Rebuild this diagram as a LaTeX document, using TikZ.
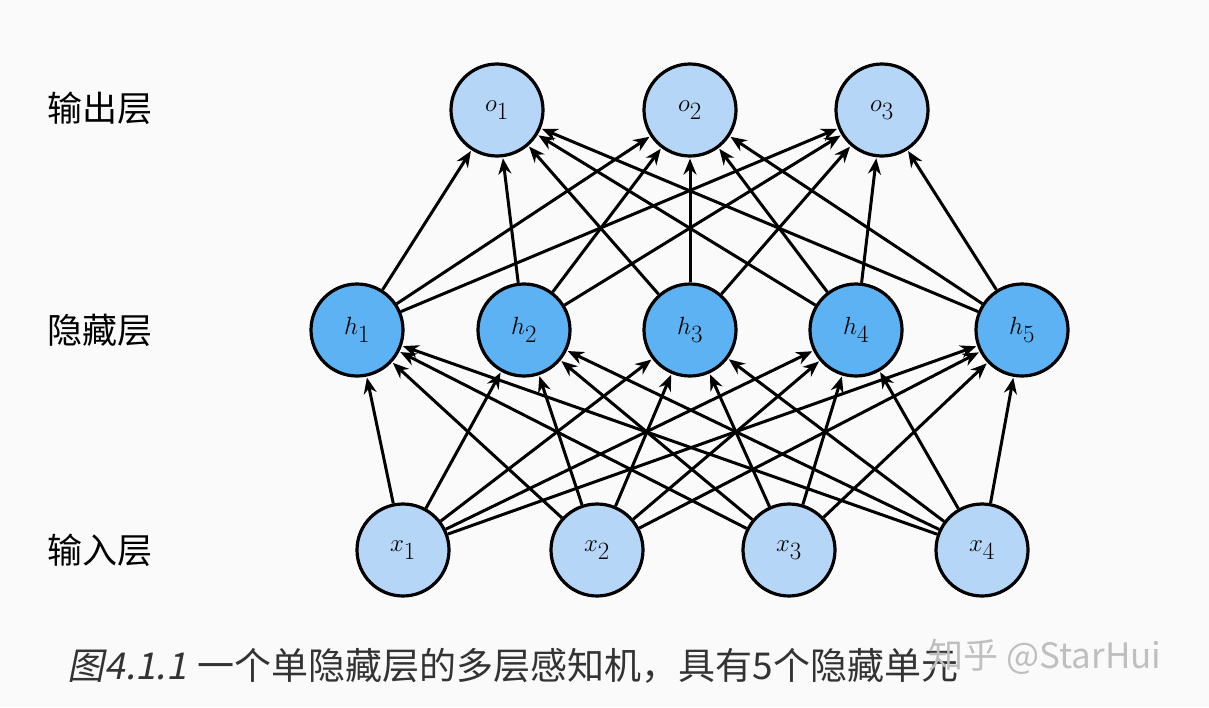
\documentclass[tikz,border=0pt]{standalone}
\usepackage{fontspec}
\newfontfamily\cjk{Noto Sans CJK SC}
\newfontfamily\cjkit{Noto Sans CJK SC}[FakeSlant=0.2]
\usetikzlibrary{arrows.meta}
\definecolor{light}{HTML}{B5D6F7}
\definecolor{hid}{HTML}{5CB2F2}
\definecolor{bg}{HTML}{FAFAFA}
\begin{document}
\begin{tikzpicture}[x=1pt,y=-1pt,
  neuron/.style={circle,draw=black,line width=3.2pt,minimum size=92pt,inner sep=0pt,font=\fontsize{40}{40}\selectfont},
  io/.style={neuron,fill=light},
  hd/.style={neuron,fill=hid},
  conn/.style={-{Stealth[length=16pt,width=13pt]},line width=3pt,shorten >=1pt},
  lab/.style={font=\cjk\fontsize{35}{35}\selectfont,anchor=west}]
\fill[bg] (0,0) rectangle (1209,707);
\useasboundingbox (0,0) rectangle (1209,707);
\node[io] (o1) at (497,110) {$o_1$};
\node[io] (o2) at (690,110) {$o_2$};
\node[io] (o3) at (882,110) {$o_3$};
\node[hd] (h1) at (357,330) {$h_1$};
\node[hd] (h2) at (524,330) {$h_2$};
\node[hd] (h3) at (690,330) {$h_3$};
\node[hd] (h4) at (856,330) {$h_4$};
\node[hd] (h5) at (1022,330) {$h_5$};
\node[io] (x1) at (403,550) {$x_1$};
\node[io] (x2) at (597,550) {$x_2$};
\node[io] (x3) at (789,550) {$x_3$};
\node[io] (x4) at (982,550) {$x_4$};
\foreach \i in {1,...,4}{\foreach \j in {1,...,5}{\draw[conn] (x\i) -- (h\j);}}
\foreach \i in {1,...,5}{\foreach \j in {1,2,3}{\draw[conn] (h\i) -- (o\j);}}
\node[lab] (l1) at (44,108) {输出层};
\node[lab] (l2) at (44,330) {隐藏层};
\node[lab] (l3) at (44,550) {输入层};
\node[anchor=west,text=black!80,font=\fontsize{37}{37}\selectfont] (cap) at (64,666) {{\cjkit 图4.1.1}\ {\cjk 一个单隐藏层的多层感知机，具有5个隐藏单元}};
\node[anchor=west,text=black!25,font=\cjk\fontsize{35}{35}\selectfont] (wm) at (925,657) {知乎 @StarHui};
\end{tikzpicture}
\end{document}
